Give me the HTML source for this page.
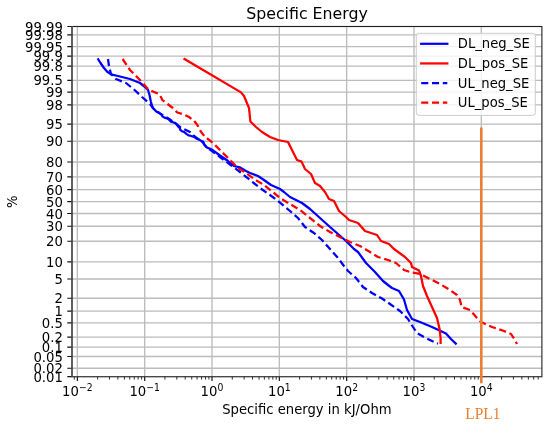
<!DOCTYPE html>
<html lang="en"><head><meta charset="utf-8"><title>Specific Energy</title>
<style>html,body{margin:0;padding:0;background:#fff}svg{display:block}text{font-family:"DejaVu Sans","Liberation Sans",sans-serif;fill:#000}.s{font-family:"Liberation Serif","DejaVu Serif",serif}</style></head><body>
<svg width="550" height="425" viewBox="0 0 550 425">
<rect width="550" height="425" fill="#fff"/>
<path d="M77.35 26.5V376.7M144.68 26.5V376.7M212.00 26.5V376.7M279.33 26.5V376.7M346.65 26.5V376.7M413.98 26.5V376.7M481.30 26.5V376.7M72.5 376.69H541.9M72.5 368.27H541.9M72.5 356.52H541.9M72.5 347.09H541.9M72.5 337.10H541.9M72.5 322.87H541.9M72.5 311.12H541.9M72.5 298.29H541.9M72.5 279.04H541.9M72.5 261.94H541.9M72.5 241.22H541.9M72.5 226.29H541.9M72.5 213.53H541.9M72.5 201.60H541.9M72.5 189.67H541.9M72.5 176.91H541.9M72.5 161.98H541.9M72.5 141.26H541.9M72.5 124.16H541.9M72.5 104.91H541.9M72.5 92.08H541.9M72.5 80.33H541.9M72.5 66.10H541.9M72.5 56.11H541.9M72.5 46.68H541.9M72.5 34.93H541.9M72.5 26.51H541.9" stroke="#bcbcbc" stroke-width="1.35" fill="none"/>
<clipPath id="c"><rect x="72.5" y="26.5" width="469.4" height="350.2"/></clipPath>
<g clip-path="url(#c)" fill="none" stroke-width="2.25" stroke-linejoin="round">
<polyline points="98.2,59.3 100.5,63.0 104.0,68.0 107.0,71.5 111.0,74.4 118.0,76.0 130.0,79.0 140.0,83.0 145.0,87.0 148.0,90.0 149.5,95.0 150.8,101.5 152.8,108.0 154.5,109.6 156.6,111.8 158.5,112.4 161.2,114.4 162.5,116.4 164.4,117.6 167.0,118.3 169.0,119.6 171.0,121.6 172.8,122.2 175.0,122.9 176.7,124.1 178.0,126.6 179.3,127.3 180.6,130.2 181.9,131.2 184.0,131.9 186.4,133.8 188.5,135.3 190.3,135.7 194.2,137.0 197.0,138.9 199.3,139.6 201.5,141.2 203.2,141.6 204.2,144.6 205.2,145.5 207.0,147.6 208.4,148.0 212.3,149.8 220.0,155.5 228.0,161.0 234.0,166.0 240.0,167.4 246.0,171.0 250.0,173.0 258.0,176.0 264.0,180.0 271.0,185.0 280.0,189.0 284.0,192.0 290.0,197.0 298.0,201.0 302.0,203.0 310.0,209.0 320.0,218.0 330.0,227.0 338.0,234.0 346.0,241.0 354.0,249.0 358.0,252.0 366.0,263.0 375.0,272.0 383.0,281.0 388.0,285.0 392.0,288.0 399.0,291.0 404.0,299.5 407.0,310.0 412.0,319.0 420.0,322.0 432.0,327.0 446.0,333.6 451.0,339.0 455.8,343.6" stroke="#0000ff" stroke-linecap="square"/>
<polyline points="184.5,59.0 241.0,92.4 244.0,96.0 249.0,108.0 250.4,121.5 256.0,127.0 262.0,132.0 270.0,137.0 278.0,140.0 288.0,142.0 292.0,150.0 297.0,160.0 301.6,161.6 305.0,169.0 311.0,174.0 315.0,183.0 320.0,186.0 325.0,192.0 329.0,199.0 334.0,201.0 336.0,205.0 339.0,211.0 346.0,217.0 349.0,220.0 358.0,223.0 365.0,231.0 377.0,235.0 381.0,241.0 389.0,244.0 394.0,249.0 405.0,257.0 411.0,263.0 412.0,267.0 419.0,270.5 421.0,276.0 423.0,286.0 427.0,296.0 432.0,307.0 437.0,318.0 439.6,329.0 440.6,338.0 440.6,342.9" stroke="#ff0000" stroke-linecap="square"/>
<polyline points="108.0,59.0 109.0,66.0 111.0,74.0 116.0,79.0 126.0,83.0 134.0,89.5 142.0,97.0 150.0,104.0 153.0,108.0 156.0,111.0 160.0,113.5 166.0,117.0 170.0,119.5 175.0,123.0 180.0,127.0 190.0,132.0 194.0,136.0 203.0,142.5 206.0,147.0 212.0,151.0 220.0,157.0 230.0,164.5 240.0,172.0 250.0,180.0 260.0,188.0 270.0,195.0 278.0,201.0 290.0,211.0 298.0,218.0 305.0,227.0 314.0,233.0 322.0,240.0 330.0,249.0 338.0,258.0 344.0,266.0 348.0,271.0 356.0,278.0 363.0,287.0 372.0,293.0 382.0,298.5 390.0,304.0 400.0,311.0 408.0,319.0 413.0,327.0 417.0,333.0 424.0,337.0 432.0,341.0 438.0,343.6" stroke="#0000ff" stroke-dasharray="7.1 3.7"/>
<polyline points="122.6,59.0 130.0,70.0 140.0,80.0 148.0,89.0 153.0,91.6 158.0,93.5 159.9,95.0 162.5,100.2 167.6,104.0 172.8,108.0 177.3,112.5 183.8,114.4 189.0,117.0 194.2,120.9 198.0,126.0 200.6,131.2 204.5,136.4 209.7,140.3 214.9,144.8 220.0,150.0 230.0,160.0 238.0,168.0 246.0,173.0 254.0,179.0 264.0,185.0 274.0,193.0 280.0,198.0 290.0,204.0 300.0,210.0 310.0,218.0 320.0,226.0 330.0,232.0 338.0,236.0 346.0,240.0 350.0,242.0 360.0,246.0 370.0,252.0 378.0,257.0 388.0,260.0 396.0,263.0 404.0,270.0 412.0,272.6 420.0,273.8 428.0,278.0 440.0,284.0 450.0,290.0 457.0,295.0 460.0,300.0 461.6,307.0 470.0,310.0 477.0,318.0 481.0,322.0 492.0,327.0 504.0,331.0 511.0,334.0 515.0,340.0 517.0,344.0" stroke="#ff0000" stroke-dasharray="7.1 3.7"/>
</g>
<path d="M77.35 376.7v4.2M144.68 376.7v4.2M212.00 376.7v4.2M279.33 376.7v4.2M346.65 376.7v4.2M413.98 376.7v4.2M481.30 376.7v4.2" stroke="#111" stroke-width="1.15" fill="none"/>
<path d="M74.27 376.7v2.9M97.62 376.7v2.9M109.47 376.7v2.9M117.88 376.7v2.9M124.41 376.7v2.9M129.74 376.7v2.9M134.25 376.7v2.9M138.15 376.7v2.9M141.59 376.7v2.9M164.94 376.7v2.9M176.80 376.7v2.9M185.21 376.7v2.9M191.73 376.7v2.9M197.06 376.7v2.9M201.57 376.7v2.9M205.48 376.7v2.9M208.92 376.7v2.9M232.27 376.7v2.9M244.12 376.7v2.9M252.53 376.7v2.9M259.06 376.7v2.9M264.39 376.7v2.9M268.90 376.7v2.9M272.80 376.7v2.9M276.24 376.7v2.9M299.59 376.7v2.9M311.45 376.7v2.9M319.86 376.7v2.9M326.38 376.7v2.9M331.71 376.7v2.9M336.22 376.7v2.9M340.13 376.7v2.9M343.57 376.7v2.9M366.92 376.7v2.9M378.77 376.7v2.9M387.18 376.7v2.9M393.71 376.7v2.9M399.04 376.7v2.9M403.55 376.7v2.9M407.45 376.7v2.9M410.89 376.7v2.9M434.24 376.7v2.9M446.10 376.7v2.9M454.51 376.7v2.9M461.03 376.7v2.9M466.36 376.7v2.9M470.87 376.7v2.9M474.78 376.7v2.9M478.22 376.7v2.9M501.57 376.7v2.9M513.42 376.7v2.9M521.83 376.7v2.9M528.36 376.7v2.9M533.69 376.7v2.9M538.20 376.7v2.9" stroke="#000" stroke-width="0.8" fill="none"/>
<path d="M72.5 376.69h-5.2M72.5 368.27h-5.2M72.5 356.52h-5.2M72.5 347.09h-5.2M72.5 337.10h-5.2M72.5 322.87h-5.2M72.5 311.12h-5.2M72.5 298.29h-5.2M72.5 279.04h-5.2M72.5 261.94h-5.2M72.5 241.22h-5.2M72.5 226.29h-5.2M72.5 213.53h-5.2M72.5 201.60h-5.2M72.5 189.67h-5.2M72.5 176.91h-5.2M72.5 161.98h-5.2M72.5 141.26h-5.2M72.5 124.16h-5.2M72.5 104.91h-5.2M72.5 92.08h-5.2M72.5 80.33h-5.2M72.5 66.10h-5.2M72.5 56.11h-5.2M72.5 46.68h-5.2M72.5 34.93h-5.2M72.5 26.51h-5.2" stroke="#111" stroke-width="1.15" fill="none"/>
<path d="M72.5 376.7H541.9V26.5H72.5" stroke="#222" stroke-width="1.1" fill="none"/>
<path d="M72.0 26.0V377.2" stroke="#444" stroke-width="1.7" fill="none"/>
<path d="M481.3 127.6V383.3" stroke="#ed7d31" stroke-width="2.6" fill="none"/>
<text transform="translate(62.90 381.84) scale(1 1.075)" font-size="13.25" text-anchor="end">0.01</text>
<text transform="translate(62.90 373.42) scale(1 1.075)" font-size="13.25" text-anchor="end">0.02</text>
<text transform="translate(62.90 361.67) scale(1 1.075)" font-size="13.25" text-anchor="end">0.05</text>
<text transform="translate(62.90 352.24) scale(1 1.075)" font-size="13.25" text-anchor="end">0.1</text>
<text transform="translate(62.90 342.25) scale(1 1.075)" font-size="13.25" text-anchor="end">0.2</text>
<text transform="translate(62.90 328.02) scale(1 1.075)" font-size="13.25" text-anchor="end">0.5</text>
<text transform="translate(62.90 316.27) scale(1 1.075)" font-size="13.25" text-anchor="end">1</text>
<text transform="translate(62.90 303.44) scale(1 1.075)" font-size="13.25" text-anchor="end">2</text>
<text transform="translate(62.90 284.19) scale(1 1.075)" font-size="13.25" text-anchor="end">5</text>
<text transform="translate(62.90 267.09) scale(1 1.075)" font-size="13.25" text-anchor="end">10</text>
<text transform="translate(62.90 246.37) scale(1 1.075)" font-size="13.25" text-anchor="end">20</text>
<text transform="translate(62.90 231.44) scale(1 1.075)" font-size="13.25" text-anchor="end">30</text>
<text transform="translate(62.90 218.68) scale(1 1.075)" font-size="13.25" text-anchor="end">40</text>
<text transform="translate(62.90 206.75) scale(1 1.075)" font-size="13.25" text-anchor="end">50</text>
<text transform="translate(62.90 194.82) scale(1 1.075)" font-size="13.25" text-anchor="end">60</text>
<text transform="translate(62.90 182.06) scale(1 1.075)" font-size="13.25" text-anchor="end">70</text>
<text transform="translate(62.90 167.13) scale(1 1.075)" font-size="13.25" text-anchor="end">80</text>
<text transform="translate(62.90 146.41) scale(1 1.075)" font-size="13.25" text-anchor="end">90</text>
<text transform="translate(62.90 129.31) scale(1 1.075)" font-size="13.25" text-anchor="end">95</text>
<text transform="translate(62.90 110.06) scale(1 1.075)" font-size="13.25" text-anchor="end">98</text>
<text transform="translate(62.90 97.23) scale(1 1.075)" font-size="13.25" text-anchor="end">99</text>
<text transform="translate(62.90 85.48) scale(1 1.075)" font-size="13.25" text-anchor="end">99.5</text>
<text transform="translate(62.90 71.25) scale(1 1.075)" font-size="13.25" text-anchor="end">99.8</text>
<text transform="translate(62.90 61.26) scale(1 1.075)" font-size="13.25" text-anchor="end">99.9</text>
<text transform="translate(62.90 51.83) scale(1 1.075)" font-size="13.25" text-anchor="end">99.95</text>
<text transform="translate(62.90 40.08) scale(1 1.075)" font-size="13.25" text-anchor="end">99.98</text>
<text transform="translate(62.90 31.66) scale(1 1.075)" font-size="13.25" text-anchor="end">99.99</text>
<text transform="translate(77.35 395.80) scale(1 1.075)" font-size="13.25" text-anchor="middle">10<tspan font-size="9.27" dy="-4.9">−2</tspan></text>
<text transform="translate(144.68 395.80) scale(1 1.075)" font-size="13.25" text-anchor="middle">10<tspan font-size="9.27" dy="-4.9">−1</tspan></text>
<text transform="translate(212.00 395.80) scale(1 1.075)" font-size="13.25" text-anchor="middle">10<tspan font-size="9.27" dy="-4.9">0</tspan></text>
<text transform="translate(279.33 395.80) scale(1 1.075)" font-size="13.25" text-anchor="middle">10<tspan font-size="9.27" dy="-4.9">1</tspan></text>
<text transform="translate(346.65 395.80) scale(1 1.075)" font-size="13.25" text-anchor="middle">10<tspan font-size="9.27" dy="-4.9">2</tspan></text>
<text transform="translate(413.98 395.80) scale(1 1.075)" font-size="13.25" text-anchor="middle">10<tspan font-size="9.27" dy="-4.9">3</tspan></text>
<text transform="translate(481.30 395.80) scale(1 1.075)" font-size="13.25" text-anchor="middle">10<tspan font-size="9.27" dy="-4.9">4</tspan></text>
<text transform="translate(306.90 413.85) scale(1 1.075)" font-size="13.20" text-anchor="middle">Specific energy in kJ/Ohm</text>
<text transform="translate(17.40 201.60) rotate(-90) scale(1 1.075)" font-size="13.25" text-anchor="middle">%</text>
<text transform="translate(307.00 19.10) scale(1 1.01)" font-size="15.80" text-anchor="middle">Specific Energy</text>
<text transform="translate(482.90 419.10) scale(1 1.075)" font-size="15.45" text-anchor="middle" class="s" style="fill:#ed7d31">LPL1</text>
<rect x="416.3" y="33.3" width="119" height="82.1" rx="2.6" ry="2.6" fill="#fff" fill-opacity="0.8" stroke="#cccccc" stroke-width="1"/>
<path d="M421.2 43.8H447.3" stroke="#0000ff" stroke-width="2.25" stroke-linecap="square" fill="none"/>
<text transform="translate(457.80 48.30) scale(1 1.075)" font-size="13.17" text-anchor="start">DL_neg_SE</text>
<path d="M421.2 63.45H447.3" stroke="#ff0000" stroke-width="2.25" stroke-linecap="square" fill="none"/>
<text transform="translate(457.80 67.95) scale(1 1.075)" font-size="13.17" text-anchor="start">DL_pos_SE</text>
<path d="M421.2 83.1H447.3" stroke="#0000ff" stroke-width="2.25" stroke-dasharray="7.1 3.7" fill="none"/>
<text transform="translate(457.80 87.60) scale(1 1.075)" font-size="13.17" text-anchor="start">UL_neg_SE</text>
<path d="M421.2 102.7H447.3" stroke="#ff0000" stroke-width="2.25" stroke-dasharray="7.1 3.7" fill="none"/>
<text transform="translate(457.80 107.20) scale(1 1.075)" font-size="13.17" text-anchor="start">UL_pos_SE</text>
</svg></body></html>
